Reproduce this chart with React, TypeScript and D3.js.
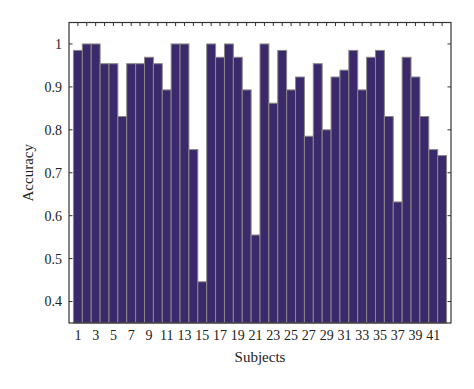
import React from "react";
import * as d3 from "d3";

const subjects = d3.range(1, 43);
const accuracy = [
  0.985, 1.0, 1.0, 0.954, 0.954, 0.831, 0.954, 0.954, 0.969, 0.954,
  0.893, 1.0, 1.0, 0.754, 0.446, 1.0, 0.969, 1.0, 0.969, 0.893,
  0.555, 1.0, 0.862, 0.985, 0.893, 0.923, 0.785, 0.954, 0.8, 0.923,
  0.939, 0.985, 0.893, 0.969, 0.985, 0.831, 0.632, 0.969, 0.923, 0.831,
  0.754, 0.74,
];
const yTicks = [0.4, 0.5, 0.6, 0.7, 0.8, 0.9, 1];
const xTickLabels = d3.range(1, 42, 2);

const W = 474, H = 389;
const L = 69, R = 451, T = 22.5, B = 323;

export default function App() {
  const x = d3.scaleLinear().domain([0, 43]).range([L, R]);
  const y = d3.scaleLinear().domain([0.35, 1.05]).range([B, T]);
  const font = "'Liberation Serif', 'DejaVu Serif', serif";
  return (
    <svg width={W} height={H} style={{ position: "absolute", left: 0, top: 0, background: "#fff" }}>
      {subjects.map((s, i) => (
        <rect
          key={s}
          x={x(s - 0.5)}
          y={y(accuracy[i])}
          width={x(s + 0.5) - x(s - 0.5)}
          height={B - y(accuracy[i])}
          fill="#3a2a6c"
          stroke="#8c8686"
          strokeWidth={1}
        />
      ))}
      {subjects.map((s) => (
        <line key={"tt" + s} x1={x(s)} x2={x(s)} y1={T} y2={T + 3.5} stroke="#333" strokeWidth={1} />
      ))}
      {yTicks.map((t) => (
        <g key={"yt" + t}>
          <line x1={L} x2={L + 3.5} y1={y(t)} y2={y(t)} stroke="#333" strokeWidth={1} />
          <line x1={R - 3.5} x2={R} y1={y(t)} y2={y(t)} stroke="#333" strokeWidth={1} />
          <text x={L - 7} y={y(t)} dy="0.35em" textAnchor="end" fontFamily={font} fontSize={14} fill="#222">
            {d3.format("")(t)}
          </text>
        </g>
      ))}
      {xTickLabels.map((s) => (
        <text key={"xl" + s} x={x(s)} y={340} textAnchor="middle" fontFamily={font} fontSize={14} fill="#222">
          {s}
        </text>
      ))}
      <rect x={L} y={T} width={R - L} height={B - T} fill="none" stroke="#333" strokeWidth={1.2} />
      <text x={260} y={362} textAnchor="middle" fontFamily={font} fontSize={15} fill="#222">
        Subjects
      </text>
      <text
        transform={`translate(33,${(T + B) / 2}) rotate(-90)`}
        textAnchor="middle"
        fontFamily={font}
        fontSize={15}
        fill="#222"
      >
        Accuracy
      </text>
    </svg>
  );
}
